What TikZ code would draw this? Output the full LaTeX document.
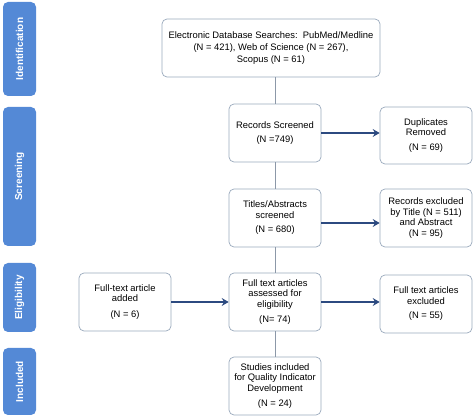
\documentclass[tikz,border=0pt]{standalone}
\usepackage{fontspec}
\setmainfont{Liberation Sans}
\usetikzlibrary{arrows.meta}
\definecolor{barblue}{HTML}{5489D6}
\definecolor{boxline}{HTML}{9AAABD}
\definecolor{arrowblue}{HTML}{2C4A80}
\definecolor{vline}{HTML}{8C98A8}
\begin{document}
\begin{tikzpicture}[x=1pt,y=-1pt,
  phase/.style={draw=none,fill=barblue,rounded corners=5pt,minimum width=33pt,inner sep=0pt},
  phasetext/.style={rotate=90,text=white,font=\bfseries\fontsize{10}{12}\selectfont},
  box/.style={draw=boxline,line width=0.7pt,rounded corners=5pt,fill=white,align=center,
    minimum width=92pt,minimum height=58pt,inner sep=1pt,font=\fontsize{9.4}{10.5}\selectfont},
  flow/.style={draw=vline,line width=0.7pt},
  harrow/.style={draw=arrowblue,line width=1.8pt,-{Stealth[length=7pt,width=8pt,inset=2.5pt]}}
]
\useasboundingbox (0,0) rectangle (474,419);
% phase bars
\node[phase,minimum height=94pt] (pid) at (19.5,49) {};
\node[phasetext] (tid) at (pid.center) {Identification};
\node[phase,minimum height=139pt] (psc) at (19.5,176.5) {};
\node[phasetext] (tsc) at (psc.center) {Screening};
\node[phase,minimum height=69pt] (pel) at (19.5,297.5) {};
\node[phasetext] (tel) at (pel.center) {Eligibility};
\node[phase,minimum height=67pt] (pin) at (19.5,381.5) {};
\node[phasetext] (tin) at (pin.center) {Included};
% boxes
\node[box,minimum width=218pt] (db) at (271,48) {Electronic Database Searches:\ \ PubMed/Medline\\[1.5pt](N = 421), Web of Science (N = 267),\\[1.5pt]Scopus (N = 61)};
\node[box] (rs) at (275,133) {Records Screened\\[4pt](N =749)};
\node[box,minimum height=57pt] (dup) at (426,135.5) {Duplicates\\Removed\\[4pt](N = 69)};
\node[box] (ta) at (275,218) {Titles/Abstracts\\screened\\[4pt](N = 680)};
\node[box] (rex) at (426,218) {Records excluded\\by Title (N = 511)\\and Abstract\\(N = 95)};
\node[box] (fa) at (125,302) {Full-text article\\added\\[5pt](N = 6)};
\node[box] (fta) at (275,302) {Full text articles\\assessed for\\eligibility\\[5pt](N= 74)};
\node[box] (fte) at (426,304) {Full text articles\\excluded\\[4pt](N = 55)};
\node[box] (si) at (275,386) {Studies included\\for Quality Indicator\\Development\\[5pt](N = 24)};
% vertical flow
\draw[flow] (rs.north |- db.south) -- (rs.north);
\draw[flow] (rs.south) -- (ta.north);
\draw[flow] (ta.south) -- (fta.north);
\draw[flow] (fta.south) -- (si.north);
% horizontal arrows
\coordinate (tastart) at ([yshift=-5pt]ta.east);
\draw[harrow] (rs.east) -- (dup.west |- rs.east);
\draw[harrow] (tastart) -- (rex.west |- tastart);
\draw[harrow] (fa.east) -- (fta.west);
\draw[harrow] (fta.east) -- (fte.west |- fta.east);
\end{tikzpicture}
\end{document}
